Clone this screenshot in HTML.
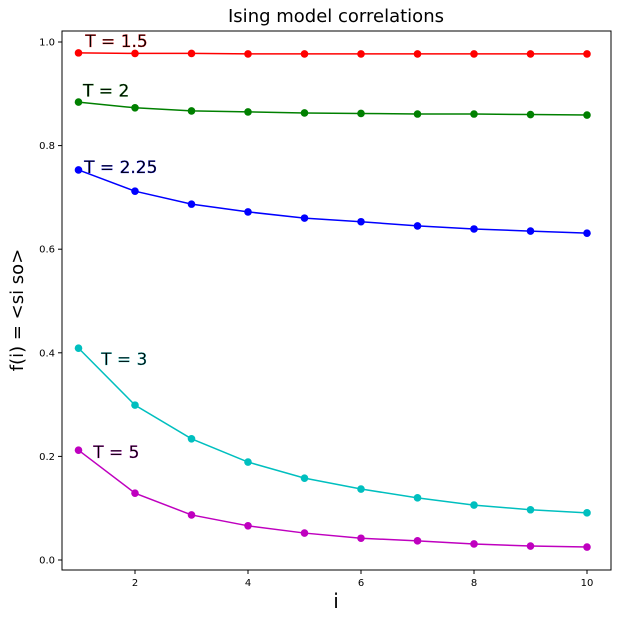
<!DOCTYPE html>
<html><head><meta charset="utf-8"><style>
body{margin:0;background:#fff;font-family:"Liberation Sans","DejaVu Sans",sans-serif;}
svg text{font-family:"DejaVu Sans","Liberation Sans",sans-serif;}
</style></head><body>
<svg id="chart" width="621" height="619" xmlns="http://www.w3.org/2000/svg">
<rect width="621" height="619" fill="#fff"/>
<text x="336" y="22" font-size="18" text-anchor="middle">Ising model correlations</text>
<text x="336" y="608" font-size="20" text-anchor="middle">i</text>
<text transform="translate(23,310) rotate(-90)" font-size="18" text-anchor="middle">f(i) = &lt;si so&gt;</text>
<g id="plot"></g>
<rect x="62" y="31" width="549" height="539" fill="none" stroke="#000" stroke-width="1"/>
</svg>
<script>
const xs=[1,2,3,4,5,6,7,8,9,10];
const labels=["T = 1.5","T = 2","T = 2.25","T = 3","T = 5"];
const colors=["#ff0000","#008000","#0000ff","#00bfbf","#bf00bf"];
const s15=[0.979,0.978,0.978,0.977,0.977,0.977,0.977,0.977,0.977,0.977];
const s2=[0.884,0.873,0.867,0.865,0.863,0.862,0.861,0.861,0.860,0.859];
const s225=[0.753,0.712,0.687,0.672,0.660,0.653,0.645,0.639,0.635,0.631];
const s3=[0.409,0.299,0.234,0.189,0.158,0.137,0.120,0.106,0.097,0.091];
const s5=[0.212,0.129,0.087,0.066,0.052,0.042,0.037,0.031,0.027,0.025];
const series=[s15,s2,s225,s3,s5];
const labelPos=[[1.12,0.99],[1.08,0.895],[1.1,0.747],[1.4,0.376],[1.26,0.197]];
const xTicks=[2,4,6,8,10];
const yTicks=[0.0,0.2,0.4,0.6,0.8,1.0];
const X=v=>78.5+(v-1)*56.5, Y=v=>560-v*518;
const NS="http://www.w3.org/2000/svg", g=document.getElementById('plot');
function mk(t,a){const e=document.createElementNS(NS,t);for(const k in a)e.setAttribute(k,a[k]);g.appendChild(e);return e;}
xTicks.forEach(t=>{
 const l=mk('line',{x1:X(t),x2:X(t),y1:570,y2:574,stroke:'#000'});
 
 
 const tx=mk('text',{x:X(t),y:586,'font-size':10,'text-anchor':'middle'});tx.textContent=t;
 
 
});
yTicks.forEach(t=>{
 const l=mk('line',{x1:58,x2:62,y1:Y(t),y2:Y(t),stroke:'#000'});
 
 
 const tx=mk('text',{x:55,y:Y(t)+3.5,'font-size':10,'text-anchor':'end'});tx.textContent=t.toFixed(1);
 
 
});
series.forEach((s,i)=>{
 const p=mk('polyline',{points:s.map((v,j)=>X(xs[j])+','+Y(v)).join(' '),fill:'none',stroke:colors[i],'stroke-width':1.5});
 
 
 s.forEach((v,j)=>{const c=mk('circle',{cx:X(xs[j]),cy:Y(v),r:3.8,fill:colors[i]});
  
  });
 const t=mk('text',{x:X(labelPos[i][0]),y:Y(labelPos[i][1]),'font-size':17,fill:'#000',stroke:colors[i],'stroke-width':0.3});
 t.textContent=labels[i];
 
 
});
</script>
</body></html>
